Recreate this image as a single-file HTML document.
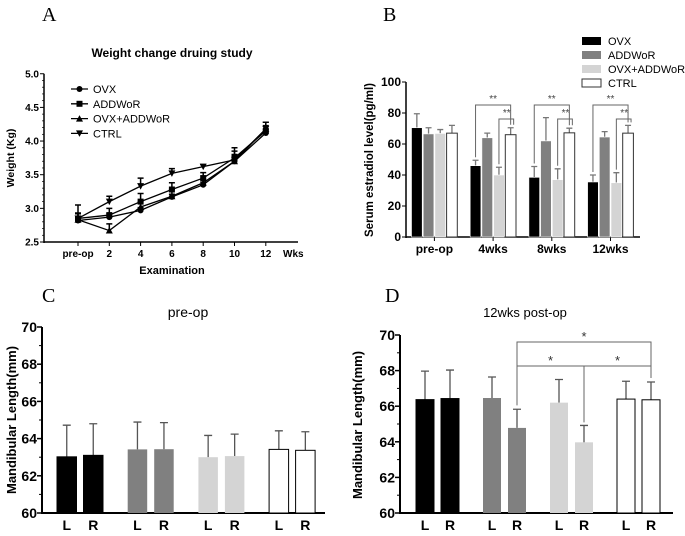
<!DOCTYPE html>
<html><head><meta charset="utf-8"><style>
html,body{margin:0;padding:0;background:#fff;}
svg{display:block;font-family:"Liberation Sans",Arial,sans-serif;}
.tk{font-size:10px;font-weight:bold;fill:#000;}
.tk2{font-size:12px;font-weight:bold;fill:#000;}
.lg{font-size:11px;fill:#000;}
.pl{font-family:"Liberation Serif",serif;font-size:20px;fill:#000;}
</style></head><body>
<svg id="fig" width="685" height="536" viewBox="0 0 685 536" xmlns="http://www.w3.org/2000/svg">
<text class="pl" x="42" y="21">A</text>
<text class="pl" x="383" y="21">B</text>
<text class="pl" x="42" y="302">C</text>
<text class="pl" x="385" y="302">D</text>
<text x="172" y="57" text-anchor="middle" font-size="12" font-weight="bold">Weight change druing study</text>
<text x="172" y="274" text-anchor="middle" font-size="11" font-weight="bold">Examination</text>
<text transform="translate(14,158) rotate(-90)" text-anchor="middle" font-size="10.5" font-weight="bold">Weight (Kg)</text>
<text transform="translate(373,160) rotate(-90)" text-anchor="middle" font-size="11.5" font-weight="bold">Serum estradiol level(pg/ml)</text>
<text x="188" y="317" text-anchor="middle" font-size="14">pre-op</text>
<text transform="translate(16,420) rotate(-90)" text-anchor="middle" font-size="13" font-weight="bold">Mandibular Length(mm)</text>
<text x="525" y="317" text-anchor="middle" font-size="13">12wks post-op</text>
<text transform="translate(362,425) rotate(-90)" text-anchor="middle" font-size="13" font-weight="bold">Mandibular Length(mm)</text>
</svg>
<script>
// ---------- data ----------
var aCategories = ["pre-op","2","4","6","8","10","12"];
var aSeriesNames = ["OVX","ADDWoR","OVX+ADDWoR","CTRL"];
var aOVX = [2.82,2.87,2.97,3.17,3.35,3.70,4.12];
var aADD = [2.85,2.90,3.10,3.28,3.45,3.75,4.15];
var aOVXADD = [2.83,2.67,3.02,3.18,3.38,3.70,4.18];
var aCTRL = [2.85,3.10,3.33,3.52,3.62,3.72,4.18];
var aErrOVX = [0.03,0.05,0.04,0.04,0.04,0.05,0.05];
var aErrADD = [0.07,0.1,0.12,0.1,0.08,0.1,0.08];
var aErrOVXADD = [0.1,0.1,0.08,0.1,0.05,0.1,0.1];
var aErrCTRL = [0.2,0.08,0.12,0.07,0.03,0.18,0.1];
var aYTicks = [2.5,3.0,3.5,4.0,4.5,5.0];

var bCategories = ["pre-op","4wks","8wks","12wks"];
var bOVX = [70.5,46,38.5,35.5];
var bADD = [66.5,64,62,64.5];
var bOVXADD = [66.8,40,37,35];
var bCTRL = [67,66,67.2,67];
var bErrOVX = [9,3.5,7,4.5];
var bErrADD = [4,3,15,3.5];
var bErrOVXADD = [2.5,5,7,6.5];
var bErrCTRL = [5,4.5,3,5];
var bYTicks = [0,20,40,60,80,100];

var cGroups = ["OVX","ADDWoR","OVX+ADDWoR","CTRL"];
var cSides = ["L","R"];
var cValues = [63.02,63.1,63.42,63.43,63.0,63.06,63.42,63.37];
var cErrors = [1.7,1.7,1.47,1.43,1.17,1.18,1.0,1.0];
var dValues = [66.37,66.43,66.46,64.78,66.2,63.97,66.4,66.36];
var dErrors = [1.6,1.6,1.18,1.05,1.3,0.95,1.0,1.0];
var mYTicks = [60,62,64,66,68,70];

// ---------- helpers ----------
var svg = document.getElementById('fig');
var NS = "http://www.w3.org/2000/svg";
function mk(tag, at){var e=document.createElementNS(NS,tag);for(var k in at)e.setAttribute(k,at[k]);svg.appendChild(e);return e;}
var fills = ["#000","#808080","#d4d4d4","#fff"];

// ---------- Panel A ----------
function yA(v){return 242-(v-2.5)*67.3;}
function xA(i){return 78+i*31.3;}
var el;
el = mk('line',{x1:44,y1:yA(5.0),x2:44,y2:243,stroke:'#000','stroke-width':1.5});


el = mk('line',{x1:44,y1:242,x2:298,y2:242,stroke:'#000','stroke-width':1.5});


aYTicks.forEach(function(t){
  el = mk('line',{x1:40,y1:yA(t),x2:44,y2:yA(t),stroke:'#000'});
  
  
  el = mk('text',{x:39,y:yA(t)+3.5,'text-anchor':'end','class':'tk'}); el.textContent=t.toFixed(1);
  
  
});
for(var t=2.6;t<5.0;t+=0.1){ if(Math.abs((t*2)-Math.round(t*2))>0.01){
  el = mk('line',{x1:42,y1:yA(t),x2:44,y2:yA(t),stroke:'#000','stroke-width':0.7});
  
  
}}
aCategories.forEach(function(c,i){
  el = mk('line',{x1:xA(i),y1:242,x2:xA(i),y2:246,stroke:'#000'});
  
  
  el = mk('text',{x:xA(i),y:257,'text-anchor':'middle','class':'tk'}); el.textContent=c;
  
  
});
el = mk('text',{x:283,y:257,'class':'tk'}); el.textContent='Wks';



function marker(kind,x,y){
  var e;
  if(kind==0) e=mk('circle',{cx:x,cy:y,r:3,fill:'#000'});
  else if(kind==1) e=mk('rect',{x:x-3,y:y-3,width:6,height:6,fill:'#000'});
  else if(kind==2) e=mk('polygon',{points:(x)+','+(y-3.5)+' '+(x-3.5)+','+(y+3)+' '+(x+3.5)+','+(y+3),fill:'#000'});
  else e=mk('polygon',{points:(x)+','+(y+3.5)+' '+(x-3.5)+','+(y-3)+' '+(x+3.5)+','+(y-3),fill:'#000'});
  return e;
}
var aSeries=[aOVX,aADD,aOVXADD,aCTRL], aErrs=[aErrOVX,aErrADD,aErrOVXADD,aErrCTRL];
aSeries.forEach(function(s,k){
  var pts=s.map(function(v,i){return xA(i)+','+yA(v);}).join(' ');
  el = mk('polyline',{points:pts,fill:'none',stroke:'#000','stroke-width':1.3});
  
  
  s.forEach(function(v,i){
    var x=xA(i), y1=yA(v), y2=yA(v+aErrs[k][i]);
    el = mk('path',{d:'M'+x+' '+y1+'V'+y2+'M'+(x-3)+' '+y2+'H'+(x+3),stroke:'#000','stroke-width':1.5,fill:'none'});
    
    
    el = marker(k,x,y1);
    
    
  });
  var ly=89+k*14.8;
  el = mk('line',{x1:71,y1:ly,x2:88,y2:ly,stroke:'#000','stroke-width':1.3});
  
  
  el = marker(k,79.5,ly);
  
  
  el = mk('text',{x:93,y:ly+4,'class':'lg'}); el.textContent=aSeriesNames[k];
  
  
});

// ---------- Panel B ----------
function yB(v){return 237-v*1.55;}
var bw=11.7;
function xB(g,k){return 411+g*58.7+k*bw;}
el = mk('line',{x1:406,y1:yB(100),x2:406,y2:238,stroke:'#000','stroke-width':1.5});


el = mk('line',{x1:406,y1:237,x2:640,y2:237,stroke:'#000','stroke-width':1.5});


bYTicks.forEach(function(t){
  el = mk('line',{x1:402,y1:yB(t),x2:406,y2:yB(t),stroke:'#000'});
  
  
  el = mk('text',{x:401,y:yB(t)+4,'text-anchor':'end','class':'tk2'}); el.textContent=t;
  
  
});
var bSeries=[bOVX,bADD,bOVXADD,bCTRL], bErrs=[bErrOVX,bErrADD,bErrOVXADD,bErrCTRL];
bCategories.forEach(function(c,g){
  var cx=xB(g,2);
  el = mk('line',{x1:cx,y1:237,x2:cx,y2:241,stroke:'#000'});
  
  
  el = mk('text',{x:cx,y:253,'text-anchor':'middle','class':'tk2'}); el.textContent=c;
  
  
  bSeries.forEach(function(s,k){
    var x=xB(g,k), y=yB(s[g]), ye=yB(s[g]+bErrs[k][g]), m=x+bw/2;
    el = mk('path',{d:'M'+m+' '+y+'V'+ye+'M'+(m-3)+' '+ye+'H'+(m+3),stroke:'#777','stroke-width':1.3,fill:'none'});
    
    
    el = mk('rect',{x:x+0.5,y:y,width:bw-1,height:237-y,fill:fills[k],stroke:k==3?'#333':'#fff','stroke-width':k==3?1:0.6});
    
    
  });
  if(g>0){
    var xo=xB(g,0)+bw/2, xl=xB(g,2)+bw/2, xc=xB(g,3)+bw/2;
    el = mk('path',{d:'M'+xo+' '+(yB(bOVX[g]+bErrOVX[g])-3)+'V105H'+xc+'V'+(yB(bCTRL[g]+bErrCTRL[g])-3),stroke:'#666',fill:'none','stroke-width':1});
    
    
    el = mk('text',{x:(xo+xc)/2,y:102,'text-anchor':'middle','font-size':10,fill:'#444'}); el.textContent='**';
    
    
    el = mk('path',{d:'M'+xl+' '+(yB(bOVXADD[g]+bErrOVXADD[g])-3)+'V119H'+(xc+3)+'V'+(yB(bCTRL[g]+bErrCTRL[g])-3),stroke:'#666',fill:'none','stroke-width':1});
    
    
    el = mk('text',{x:(xl+xc)/2+2,y:116,'text-anchor':'middle','font-size':10,fill:'#444'}); el.textContent='**';
    
    
  }
});
aSeriesNames.forEach(function(n,k){
  var ly=41+k*14;
  el = mk('rect',{x:582,y:ly-4,width:19,height:8,fill:fills[k],stroke:k==3?'#333':'none','stroke-width':1});
  
  
  el = mk('text',{x:608,y:ly+4,'class':'lg'}); el.textContent=n;
  
  
});

// ---------- Panels C & D ----------
function mandPanel(id,axX,axEnd,top,x0,gstep,sstep,w,vals,errs){
  function y(v){return 513-(v-60)*(513-top)/10;}
  el = mk('line',{x1:axX,y1:top,x2:axX,y2:514,stroke:'#000','stroke-width':2});
  
  
  el = mk('line',{x1:axX,y1:513,x2:axEnd,y2:513,stroke:'#000','stroke-width':2});
  
  
  mYTicks.forEach(function(t,ti){
    el = mk('line',{x1:axX-5,y1:y(t),x2:axX,y2:y(t),stroke:'#000','stroke-width':1.5});
    
    
    if(ti<mYTicks.length-1){
      el = mk('line',{x1:axX-3,y1:y(t+1),x2:axX,y2:y(t+1),stroke:'#000','stroke-width':1});
      
      
    }
    el = mk('text',{x:axX-5,y:y(t)+5,'text-anchor':'end','font-size':14,'font-weight':'bold'}); el.textContent=t;
    
    
  });
  var centers=[];
  cGroups.forEach(function(gname,g){
    cSides.forEach(function(sd,s){
      var i=g*2+s, x=x0+g*gstep+s*sstep, m=x+w/2, yv=y(vals[i]), ye=y(vals[i]+errs[i]);
      centers.push(m);
      el = mk('path',{d:'M'+m+' '+yv+'V'+ye+'M'+(m-4)+' '+ye+'H'+(m+4),stroke:'#555','stroke-width':1.3,fill:'none'});
      
      
      el = mk('rect',{x:x,y:yv,width:w,height:513-yv,fill:fills[g],stroke:'#000','stroke-width':g==0||g==3?1:0});
      
      
      el = mk('text',{x:m,y:530,'text-anchor':'middle','font-size':14,'font-weight':'bold'}); el.textContent=sd;
      
      
    });
  });
  return {y:y,centers:centers};
}
mandPanel('c',42,325,327,57,70.7,26.5,19.5,cValues,cErrors);
var D = mandPanel('d',400,673,335,416,67,25,18,dValues,dErrors);
// significance brackets D
var cg=D.centers[3], cl=D.centers[5], cw=D.centers[7];
el = mk('path',{d:'M'+cg+' '+(D.y(dValues[3]+dErrors[3])-4)+'V342H'+cw+'V'+(D.y(dValues[7]+dErrors[7])-4),stroke:'#666',fill:'none','stroke-width':1});


el = mk('path',{d:'M'+cg+' '+(D.y(dValues[3]+dErrors[3])-4)+'V366H'+cw+'V'+(D.y(dValues[7]+dErrors[7])-4)+'M'+cl+' 366V'+(D.y(dValues[5]+dErrors[5])-3),stroke:'#666',fill:'none','stroke-width':1});


[[ (cg+cw)/2,341 ],[ (cg+cl)/2,365 ],[ (cl+cw)/2,365 ]].forEach(function(p){
  el = mk('text',{x:p[0],y:p[1],'text-anchor':'middle','font-size':13,fill:'#333'}); el.textContent='*';
  
  
});
</script>
</body></html>
